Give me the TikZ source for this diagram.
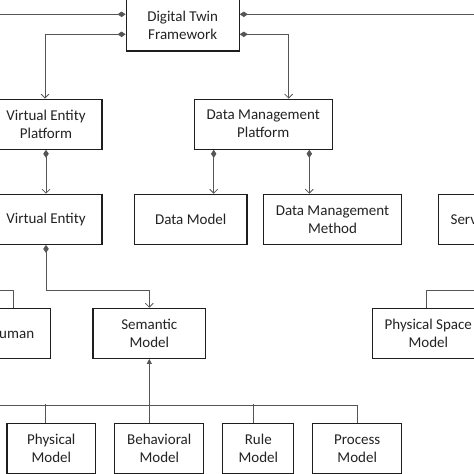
\documentclass[tikz,border=0pt]{standalone}
\usepackage{fontspec}
\setmainfont{Carlito}
\usepackage{tikz}
\usetikzlibrary{arrows.meta}
\usepackage{xcolor}
\definecolor{boxline}{RGB}{30,30,30}
\definecolor{wire}{RGB}{85,85,85}
\definecolor{ink}{RGB}{35,35,35}

\begin{document}
\begin{tikzpicture}[x=1pt,y=-1pt,
    box/.style={draw=boxline, line width=1.2pt, fill=white, align=center,
        minimum height=50pt, inner sep=0pt, text=ink,
        font=\fontsize{15}{18}\selectfont},
    link/.style={draw=wire, line width=0.8pt},
    owns/.style={link, {Diamond[length=8pt,width=5.5pt]}-{Straight Barb[length=4pt,width=8pt]}},
    part/.style={link, {Diamond[length=8pt,width=5.5pt]}-},
    isa/.style={link, -{Triangle[length=5pt,width=5pt]}}]
            \clip (0,0) rectangle (474,474);

            % Level 1: framework
            \node[box, minimum width=113pt, minimum height=52pt] (dtf) at (182.7,25) {Digital Twin\\Framework};

            % Level 2: platforms
            \node[box, minimum width=112pt] (vep) at (46,124.2) {Virtual Entity\\Platform};
            \node[box, minimum width=138pt] (dmp) at (263.2,124.2) {Data Management\\Platform};

            % Level 3
            \node[box, minimum width=112pt] (ve) at (46,219.3) {Virtual Entity};
            \node[box, minimum width=112.5pt] (dm) at (190.7,219.3) {Data Model};
            \node[box, minimum width=138pt] (dmm) at (332.5,219.3) {Data Management\\Method};
            \node[box, minimum width=68pt] (srv) at (472.5,219.3) {Service};

            % Level 4
            \node[box, minimum width=77pt] (hum) at (12,333.3) {Human};
            \node[box, minimum width=112.5pt] (sem) at (149.3,333.3) {Semantic\\Model};
            \node[box, minimum width=112pt] (psm) at (428.3,333.3) {Physical Space\\Model};

            % Level 5: semantic sub-models
            \node[box, minimum width=88.5pt] (phm) at (51.3,448.3) {Physical\\Model};
            \node[box, minimum width=89pt] (bhm) at (159.3,448.3) {Behavioral\\Model};
            \node[box, minimum width=71pt] (rlm) at (258.3,448.3) {Rule\\Model};
            \node[box, minimum width=89pt] (prm) at (357.2,448.3) {Process\\Model};

            % free ends at the picture border
            \coordinate (lftTop) at (-10,14.3);
            \coordinate (rgtTop) at (484,14.3);
            \coordinate (lftHum) at (-10,290);
            \coordinate (rgtPsm) at (484,290);
            \coordinate (lftBus) at (-10,405);

            % connectors from the framework
            \draw[part] ([yshift=10.7pt]dtf.west) -- (lftTop);
            \draw[part] ([yshift=10.7pt]dtf.east) -- (rgtTop);
            \draw[owns] ([yshift=-9.3pt]dtf.west) -| ([xshift=-1pt]vep.north);
            \draw[owns] ([yshift=-9.3pt]dtf.east) -| ([xshift=25.5pt]dmp.north);

            % platforms to level 3
            \draw[owns] (vep.south) -- (ve.north);
            \draw[owns] ([xshift=-49.5pt]dmp.south) -- ([xshift=23pt]dm.north);
            \draw[owns] ([xshift=46.1pt]dmp.south) -- ([xshift=-23.2pt]dmm.north);

            % virtual entity to semantic model
            \draw[owns] (ve.south) -- ++(0,45) -| (sem.north);
            \draw[link] (lftHum) -| ([xshift=1.3pt]hum.north);
            \draw[link] (rgtPsm) -| ([xshift=-2.3pt]psm.north);

            % sub-models to semantic model
            \draw[link] (lftBus) -- (prm.north |- lftBus) -- (prm.north);
            \draw[link] ([xshift=-6.3pt]phm.north) -- ++(0,-18.3);
            \draw[link] ([xshift=-5pt]rlm.north) -- ++(0,-18.3);
            \draw[isa] ([xshift=-10pt]bhm.north) -- (sem.south);
        \end{tikzpicture}
\end{document}
